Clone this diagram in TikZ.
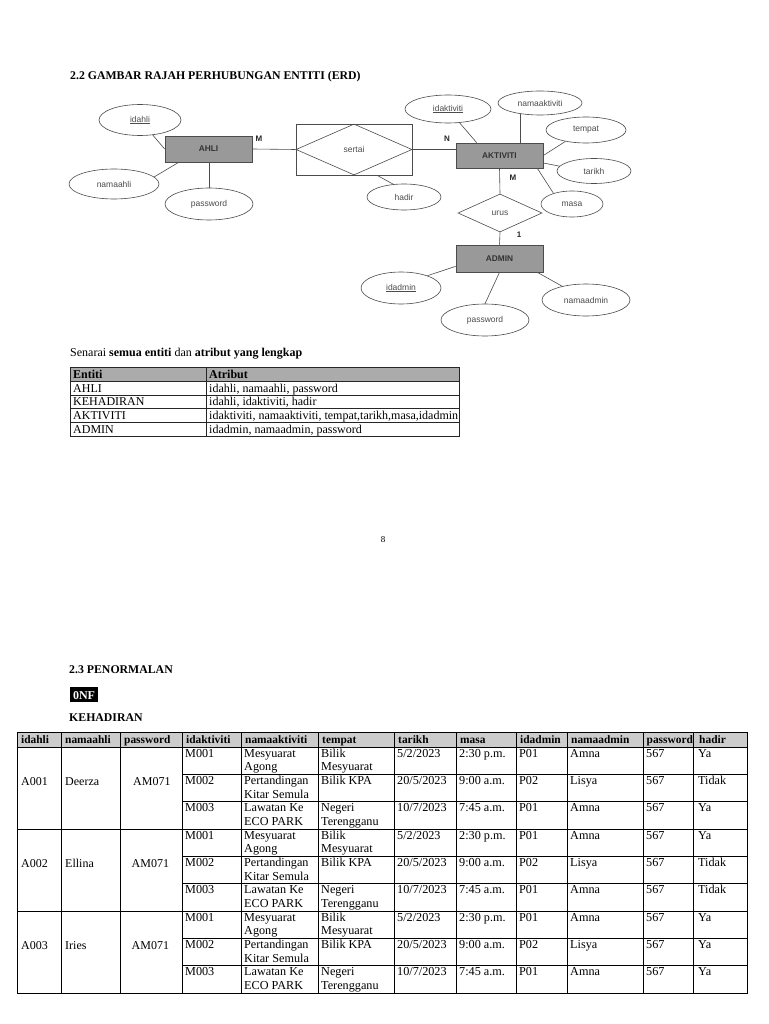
\documentclass[tikz,border=0pt]{standalone}
\usepackage{fontspec}
\setmainfont{Liberation Serif}
\newfontfamily\erd{Liberation Sans}
\usetikzlibrary{shapes.geometric}
\tikzset{
  ent/.style={draw=black!70, fill=black!40, line width=0.7pt, inner sep=0, minimum width=87pt, font=\erd\bfseries\fontsize{8.3}{9}\selectfont, text=black!80},
  attr/.style={ellipse, draw=black!70, line width=0.6pt, inner sep=0, font=\erd\fontsize{8.5}{9}\selectfont, text=black!70},
  relsh/.style={diamond, draw=black!70, line width=0.6pt, inner sep=0, font=\erd\fontsize{8.5}{9}\selectfont, text=black!70},
  conn/.style={draw=black!70, line width=0.6pt},
  card/.style={font=\erd\bfseries\fontsize{8}{9}\selectfont, text=black!85, inner sep=0},
  ttl/.style={anchor=base west, inner sep=0, font=\bfseries\fontsize{11.8}{13}\selectfont},
  txt/.style={anchor=base west, inner sep=0, font=\fontsize{12}{13.8}\selectfont},
  htxt/.style={anchor=base west, inner sep=0, font=\bfseries\fontsize{12}{13.8}\selectfont},
  bhtxt/.style={anchor=base west, inner sep=0, font=\bfseries\fontsize{11.4}{13}\selectfont},
  cell/.style={anchor=north west, inner sep=0, align=left, font=\fontsize{12.2}{13.8}\selectfont},
  tline/.style={draw=black, line width=1pt},
  tline2/.style={draw=black!85, line width=0.8pt}
}
\newcommand{\brow}[9]{%
  \pgfmathsetmacro{\ry}{747.3+27.333*#1}%
  \node[cell] (r#1c4) at (185,\ry) {\strut #2};
  \node[cell] (r#1c5) at (244,\ry) {\strut #3};
  \node[cell] (r#1c6) at (321,\ry) {\strut #4};
  \node[cell] (r#1c7) at (397,\ry) {\strut #5};
  \node[cell] (r#1c8) at (459,\ry) {\strut #6};
  \node[cell] (r#1c9) at (519,\ry) {\strut #7};
  \node[cell] (r#1c10) at (570,\ry) {\strut #8};
  \node[cell] (r#1c11) at (646,\ry) {\strut 567};
  \node[cell] (r#1c12) at (698,\ry) {\strut #9};
}
\begin{document}
\begin{tikzpicture}[x=1pt,y=-1pt]
\useasboundingbox[fill=white] (0,0) rectangle (768,1024);

% ---------- heading
\node[ttl] (h22) at (70,80) {2.2 GAMBAR RAJAH PERHUBUNGAN ENTITI (ERD)};

% ---------- ERD
\node[ent, minimum height=26pt] (ahli) at (208.5,149) {AHLI};
\node[ent, minimum height=25pt] (aktiviti) at (499.5,155.5) {AKTIVITI};
\node[ent, minimum height=27pt] (admin) at (499.5,258.5) {ADMIN};

\node[draw=black!70, line width=0.6pt, minimum width=116pt, minimum height=51pt, inner sep=0] (sertaibox) at (354,149.5) {};
\node[relsh, minimum width=116pt, minimum height=51pt] (sertai) at (354,149.5) {sertai};
\node[relsh, minimum width=84pt, minimum height=38pt] (urus) at (500,213) {urus};

\node[attr, minimum width=82pt, minimum height=31pt] (idahli) at (140,120) {\underline{idahli}};
\node[attr, minimum width=90pt, minimum height=30pt] (namaahli) at (114,184) {namaahli};
\node[attr, minimum width=88pt, minimum height=32pt] (pwahli) at (209,204) {password};
\node[attr, minimum width=86pt, minimum height=28pt] (idaktiviti) at (448,109) {\underline{idaktiviti}};
\node[attr, minimum width=84pt, minimum height=24pt] (namaaktiviti) at (540,103) {namaaktiviti};
\node[attr, minimum width=80pt, minimum height=26pt] (tempat) at (586,130) {tempat};
\node[attr, minimum width=74pt, minimum height=25pt] (tarikh) at (594,171) {tarikh};
\node[attr, minimum width=62pt, minimum height=26pt] (masa) at (572,204) {masa};
\node[attr, minimum width=74pt, minimum height=26pt] (hadir) at (404,197) {hadir};
\node[attr, minimum width=80pt, minimum height=32pt] (idadmin) at (401,288) {\underline{idadmin}};
\node[attr, minimum width=88pt, minimum height=32pt] (pwadmin) at (485,320) {password};
\node[attr, minimum width=88pt, minimum height=32pt] (namaadmin) at (586,300) {namaadmin};

\draw[conn] (idahli) -- (ahli.west);
\draw[conn] (namaahli.10) -- ([xshift=14pt]ahli.south west);
\draw[conn] (pwahli.north) -- (pwahli.north |- ahli.south);
\draw[conn] (ahli.east) -- (sertaibox.west);
\draw[conn] (sertaibox.east) -- (sertaibox.east -| aktiviti.west);
\draw[conn] ([xshift=23pt]sertaibox.south) -- (hadir.130);
\draw[conn] (idaktiviti.-50) -- ([xshift=21pt]aktiviti.north west);
\draw[conn] (namaaktiviti.209) -- (namaaktiviti.209 |- aktiviti.north);
\draw[conn] (tempat.209) -- (aktiviti.east);
\draw[conn] (tarikh.172) -- ([yshift=-7.5pt]aktiviti.east);
\draw[conn] (masa.150) -- ([xshift=-6pt]aktiviti.south east);
\draw[conn] (aktiviti.south) -- (urus.north);
\draw[conn] (urus.south) -- (admin.north);
\draw[conn] (idadmin.25) -- ([yshift=6pt]admin.south west);
\draw[conn] (admin.south) -- (pwadmin.north);
\draw[conn] ([xshift=-6pt]admin.south east) -- (namaadmin.150);

\node[card] (cm1) at (259,139) {M};
\node[card] (cn1) at (447,139) {N};
\node[card] (cm2) at (513,178) {M};
\node[card] (c11) at (519,235) {1};

% ---------- list of entities
\node[txt] (senarai) at (70,356) {Senarai \textbf{semua entiti} dan \textbf{atribut yang lengkap}};
\fill[black!33] (70,367.7) rectangle (459,381.3);
\draw[tline2] (70,367.7) rectangle (459,436);
\foreach \k in {1,2,3,4} \draw[tline2] (70,{367.7+13.66*\k}) -- (459,{367.7+13.66*\k});
\draw[tline2] (206,367.7) -- (206,436);
\node[htxt] (t1h1) at (73,378.3) {Entiti};
\node[htxt] (t1h2) at (209,378.3) {Atribut};
\node[txt] (t1a1) at (73,392) {AHLI};
\node[txt] (t1b1) at (209,392) {idahli, namaahli, password};
\node[txt] (t1a2) at (73,405.6) {KEHADIRAN};
\node[txt] (t1b2) at (209,405.6) {idahli, idaktiviti, hadir};
\node[txt] (t1a3) at (73,419.3) {AKTIVITI};
\node[txt] (t1b3) at (209,419.3) {idaktiviti, namaaktiviti, tempat,tarikh,masa,idadmin};
\node[txt] (t1a4) at (73,433) {ADMIN};
\node[txt] (t1b4) at (209,433) {idadmin, namaadmin, password};

% ---------- page number
\node[anchor=base, inner sep=0, font=\fontsize{9}{10}\selectfont] (pg) at (383,542.5) {8};

% ---------- 2.3
\node[ttl] (h23) at (69,673) {2.3 PENORMALAN};
\fill[black] (70,687) rectangle (98,702);
\node[anchor=base, inner sep=0, text=white, font=\bfseries\fontsize{12}{13}\selectfont] (onf) at (84,699) {0NF};
\node[ttl] (kh) at (69,721) {KEHADIRAN};

% ---------- big table
\fill[black!20] (17,732) rectangle (747,747);
\foreach \x in {61,120,182,241,318,394,456,516,567,643,693}
  \draw[tline] (\x,732) -- (\x,993);
\foreach \r in {1,2,4,5,7,8}
  \draw[tline] (182,{747+27.333*\r}) -- (747,{747+27.333*\r});
\foreach \yy in {747,829,911}
  \draw[tline] (17,\yy) -- (747,\yy);
\draw[tline] (17,732) rectangle (747,993);

\node[bhtxt] (bh1) at (21,743.5) {idahli};
\node[bhtxt] (bh2) at (65,743.5) {namaahli};
\node[bhtxt] (bh3) at (124,743.5) {password};
\node[bhtxt] (bh4) at (186,743.5) {idaktiviti};
\node[bhtxt] (bh5) at (245,743.5) {namaaktiviti};
\node[bhtxt] (bh6) at (322,743.5) {tempat};
\node[bhtxt] (bh7) at (398,743.5) {tarikh};
\node[bhtxt] (bh8) at (460,743.5) {masa};
\node[bhtxt] (bh9) at (520,743.5) {idadmin};
\node[bhtxt] (bh10) at (571,743.5) {namaadmin};
\node[bhtxt] (bh11) at (646.5,743.5) {password};
\node[bhtxt] (bh12) at (699,743.5) {hadir};

\node[txt] (g1a) at (21,785.5) {A001};
\node[txt] (g1b) at (65,785.5) {Deerza};
\node[txt] (g1c) at (133,785.5) {AM071};
\node[txt] (g2a) at (21,867.5) {A002};
\node[txt] (g2b) at (65,867.5) {Ellina};
\node[txt] (g2c) at (131.5,867.5) {AM071};
\node[txt] (g3a) at (21,949.5) {A003};
\node[txt] (g3b) at (65,949.5) {Iries};
\node[txt] (g3c) at (131.5,949.5) {AM071};

\brow{0}{M001}{Mesyuarat\\Agong}{Bilik\\Mesyuarat}{5/2/2023}{2:30 p.m.}{P01}{Amna}{Ya}
\brow{1}{M002}{Pertandingan\\Kitar Semula}{Bilik KPA}{20/5/2023}{9:00 a.m.}{P02}{Lisya}{Tidak}
\brow{2}{M003}{Lawatan Ke\\ECO PARK}{Negeri\\Terengganu}{10/7/2023}{7:45 a.m.}{P01}{Amna}{Ya}
\brow{3}{M001}{Mesyuarat\\Agong}{Bilik\\Mesyuarat}{5/2/2023}{2:30 p.m.}{P01}{Amna}{Ya}
\brow{4}{M002}{Pertandingan\\Kitar Semula}{Bilik KPA}{20/5/2023}{9:00 a.m.}{P02}{Lisya}{Tidak}
\brow{5}{M003}{Lawatan Ke\\ECO PARK}{Negeri\\Terengganu}{10/7/2023}{7:45 a.m.}{P01}{Amna}{Tidak}
\brow{6}{M001}{Mesyuarat\\Agong}{Bilik\\Mesyuarat}{5/2/2023}{2:30 p.m.}{P01}{Amna}{Ya}
\brow{7}{M002}{Pertandingan\\Kitar Semula}{Bilik KPA}{20/5/2023}{9:00 a.m.}{P02}{Lisya}{Ya}
\brow{8}{M003}{Lawatan Ke\\ECO PARK}{Negeri\\Terengganu}{10/7/2023}{7:45 a.m.}{P01}{Amna}{Ya}
\end{tikzpicture}
\end{document}
